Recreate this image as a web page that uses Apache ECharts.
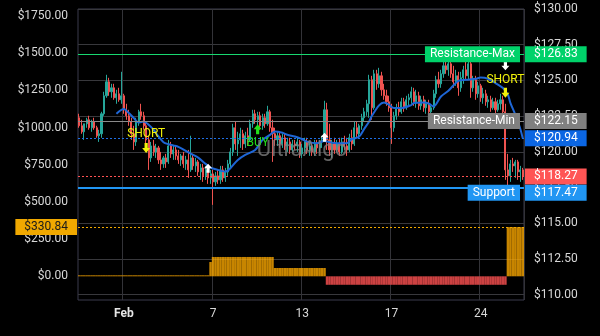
<!DOCTYPE html>
<html><head><meta charset="utf-8">
<script src="https://cdn.jsdelivr.net/npm/echarts@6/dist/echarts.min.js"></script>
<style>html,body{margin:0;background:#000}#c{width:600px;height:336px}</style>
</head><body><div id="c"></div>
<script>
// ---- data ----
const tradingDays = ['Jan 30','Jan 31','Feb 1','Feb 2','Feb 3','Feb 6','Feb 7','Feb 8','Feb 9','Feb 10','Feb 13','Feb 14','Feb 15','Feb 16','Feb 17','Feb 21','Feb 22','Feb 23','Feb 24','Feb 27'];
const barsPerDay = 9;
const tickIndex = [18, 54, 90, 126, 162];
const tickText = ['Feb', '7', '13', '17', '24'];
const rightTicks = [110, 112.5, 115, 117.5, 120, 122.5, 125, 127.5, 130];
const leftTicks = [0, 250, 500, 750, 1000, 1250, 1500, 1750];

const opens = [
122.38,121.82,121.40,121.96,122.24,121.68,122.10,121.68,121.12,121.26,
122.66,123.92,124.90,124.20,124.48,123.78,124.06,123.64,123.92,122.94,
122.52,122.10,121.26,120.69,122.10,122.80,122.52,121.82,120.83,119.57,
120.41,119.99,120.27,119.43,119.15,119.57,119.29,120.41,119.85,120.13,
119.71,119.43,119.71,119.15,119.43,118.73,119.57,119.01,119.29,118.59,
118.87,118.31,118.73,118.17,118.45,117.89,118.31,118.03,118.73,118.17,
118.59,119.15,119.99,121.68,120.55,120.83,121.26,120.55,121.12,120.83,
121.96,122.66,122.24,122.52,121.82,122.38,121.96,122.80,121.68,121.26,
120.83,121.12,120.55,120.98,120.41,120.69,120.13,120.55,120.41,120.69,
119.85,120.27,120.69,120.13,120.41,119.99,120.55,120.27,120.69,120.83,
122.94,120.83,120.13,120.55,120.13,120.55,119.99,120.69,120.41,120.13,
120.98,120.55,121.68,121.26,121.82,122.38,122.80,123.36,125.04,123.08,
125.46,124.76,125.32,124.34,123.92,123.50,123.08,121.68,122.52,123.08,
122.80,123.50,123.08,123.64,123.78,124.20,123.50,123.92,123.22,123.64,
123.08,123.36,122.80,123.08,124.06,125.04,124.76,125.46,126.02,125.74,
126.16,125.46,124.90,125.32,124.48,125.18,125.74,125.32,126.16,124.48,
125.04,124.06,124.62,123.78,124.06,123.50,123.64,123.08,123.50,122.94,
123.36,123.64,122.80,118.73,118.31,119.15,119.01,119.29,118.59,118.73];
const highs = [
122.66,122.24,121.96,122.38,122.52,122.24,122.38,121.82,121.54,122.80,
124.20,125.39,125.18,124.76,124.76,124.34,124.48,125.60,124.06,123.36,
122.94,122.38,121.82,122.38,122.94,123.36,122.80,122.10,121.12,120.69,
120.83,120.55,120.41,119.99,119.71,119.85,120.83,120.69,120.41,120.41,
120.13,119.85,119.99,119.71,120.13,121.12,119.85,119.57,119.43,119.15,
119.15,119.01,118.87,118.73,118.73,118.59,118.73,119.01,119.01,118.87,
119.43,120.27,121.96,122.10,121.40,121.68,121.54,121.40,121.68,122.24,
122.94,122.94,122.80,122.80,122.66,122.66,123.22,122.94,122.24,121.68,
121.40,121.40,121.26,121.26,120.98,120.98,120.83,120.83,120.98,120.83,
120.55,120.98,120.98,120.69,120.69,120.83,120.83,120.83,121.12,123.57,
123.43,121.96,120.83,120.98,120.83,120.98,120.98,121.12,120.98,121.26,
121.54,122.10,122.10,121.96,122.66,123.08,123.64,125.39,125.32,125.74,
125.74,125.88,125.60,124.76,124.34,123.92,123.36,122.80,123.36,123.50,
123.78,123.78,123.92,124.06,124.55,124.48,124.34,124.20,123.92,123.92,
123.64,123.64,123.22,124.34,125.32,125.60,125.74,126.30,126.44,126.44,
126.58,126.02,125.74,125.60,125.60,126.02,126.30,126.58,126.44,125.32,
125.32,124.90,124.76,124.48,124.34,123.92,123.92,123.78,123.78,123.64,
124.06,123.92,123.36,119.85,119.43,119.57,119.43,119.43,119.01,118.87];
const lows = [
121.68,121.26,120.83,121.68,121.54,121.40,121.54,120.98,120.69,120.98,
122.52,123.78,123.92,123.78,123.64,123.36,123.50,123.36,122.66,122.24,
121.82,120.83,120.13,120.41,121.82,122.24,121.54,120.55,118.73,119.29,
119.71,119.57,119.15,118.73,118.87,118.87,119.15,119.57,119.43,119.43,
119.15,119.01,118.87,118.73,118.17,118.59,118.73,118.59,118.31,118.03,
117.89,118.03,117.75,117.75,116.28,117.61,117.75,117.75,117.89,117.89,
118.31,118.87,119.71,120.13,119.71,120.27,120.13,120.27,120.41,120.69,
121.68,121.96,121.68,121.54,121.54,121.68,121.82,121.40,119.29,120.41,
120.41,120.27,120.27,120.13,119.99,119.85,119.99,120.13,119.99,119.57,
119.57,119.99,119.85,119.71,119.71,119.71,119.85,119.99,120.27,120.69,
120.13,119.71,119.57,119.85,119.99,119.71,119.85,120.13,119.71,119.99,
120.13,120.41,120.98,120.98,121.54,122.10,122.52,122.38,122.24,122.94,
124.34,124.48,123.92,123.64,123.22,122.80,120.55,121.40,122.24,122.52,
122.66,122.80,122.94,123.22,123.36,123.22,123.08,122.94,122.94,122.80,
122.66,122.52,122.45,122.94,123.78,124.48,124.48,125.18,125.46,125.32,
125.18,124.48,124.62,123.92,124.20,124.76,125.04,125.04,123.78,124.20,
123.64,123.78,123.50,123.36,123.22,123.08,122.80,122.94,122.66,122.80,
122.94,122.38,118.03,117.61,117.89,118.59,118.17,118.03,117.89,118.03];
const closes = [
121.82,121.40,121.96,122.24,121.68,122.10,121.68,121.12,121.26,122.66,
123.92,124.90,124.20,124.48,123.78,124.06,123.64,123.92,122.94,122.52,
122.10,121.26,120.69,122.10,122.80,122.52,121.82,120.83,119.57,120.41,
119.99,120.27,119.43,119.15,119.57,119.29,120.41,119.85,120.13,119.71,
119.43,119.71,119.15,119.43,118.73,119.57,119.01,119.29,118.59,118.87,
118.31,118.73,118.17,118.45,117.89,118.31,118.03,118.73,118.17,118.59,
119.15,119.99,121.68,120.55,120.83,121.26,120.55,121.12,120.83,121.96,
122.66,122.24,122.52,121.82,122.38,121.96,122.80,121.68,121.26,120.83,
121.12,120.55,120.98,120.41,120.69,120.13,120.55,120.41,120.69,119.85,
120.27,120.69,120.13,120.41,119.99,120.55,120.27,120.69,120.83,122.94,
120.83,120.13,120.55,120.13,120.55,119.99,120.69,120.41,120.13,120.98,
120.55,121.68,121.26,121.82,122.38,122.80,123.36,125.04,123.08,125.46,
124.76,125.32,124.34,123.92,123.50,123.08,121.68,122.52,123.08,122.80,
123.50,123.08,123.64,123.78,124.20,123.50,123.92,123.22,123.64,123.08,
123.36,122.80,123.08,124.06,125.04,124.76,125.46,126.02,125.74,126.16,
125.46,124.90,125.32,124.48,125.18,125.74,125.32,126.16,124.48,125.04,
124.06,124.62,123.78,124.06,123.50,123.64,123.08,123.50,122.94,123.36,
123.64,122.80,118.73,118.31,119.15,119.01,119.29,118.59,118.73,118.27];

const maIndex = [15,18,20,22,24,26,28,30,32,34,36,38,40,43,45,48,51,53,56,59,61,64,67,71,74,77,79,82,84,87,89,92,96,99,101,104,108,110,113,115,117,118,121,123,125,127,130,134,135,139,141,143,146,149,153,156,160,162,165,168,171,173,174,176,177,178,179];
const maValue = [122.66,122.99,122.71,122.36,122.05,122.12,121.89,121.54,121.07,120.67,120.53,120.44,120.34,120.06,119.87,119.59,119.15,118.89,118.73,118.61,118.85,119.43,119.78,120.13,120.83,121.18,121.42,121.33,121.19,121.07,120.95,120.71,120.60,120.76,120.67,120.60,120.60,120.87,121.07,121.60,122.12,122.48,123.25,123.45,123.29,123.06,123.06,123.27,123.41,123.45,123.38,123.17,123.87,124.27,124.97,125.04,125.11,125.20,125.11,124.81,124.46,123.99,123.43,122.59,122.10,121.61,120.94];

const histValues = [
0,0,0,0,0,0,0,0,0,0,
0,0,0,0,0,0,0,0,0,0,
0,0,0,0,0,0,0,0,0,0,
0,0,0,0,0,0,0,0,0,0,
0,0,0,0,0,0,0,0,0,0,
0,0,0,96,130,130,130,130,130,130,
130,130,130,130,130,130,130,130,130,130,
130,130,130,130,130,130,130,130,130,56,
56,56,56,56,56,56,56,56,56,56,
56,56,56,56,56,56,56,56,56,56,
-57,-57,-57,-57,-57,-57,-57,-57,-57,-57,
-57,-57,-57,-57,-57,-57,-57,-57,-57,-57,
-57,-57,-57,-57,-57,-57,-57,-57,-57,-57,
-57,-57,-57,-57,-57,-57,-57,-57,-57,-57,
-57,-57,-57,-57,-57,-57,-57,-57,-57,-57,
-57,-57,-57,-57,-57,-57,-57,-57,-57,-57,
-57,-57,-57,-57,-57,-57,-57,-57,-57,-57,
-57,-57,-57,330.84,330.84,330.84,330.84,330.84,330.84,330.84];

const resistanceMax = 126.83, resistanceMin = 122.15, maLast = 120.94, lastPrice = 118.27, support = 117.47;
const histLast = 330.84;
// signals: [barIndex, price]
const shortSignals = [[27, 121.26], [172, 125.00]];
const shortArrows = [[27, 120.27], [172, 124.13]];
const buySignals = [[72, 120.59]];
const buyArrows = [[72, 121.58]];
const whiteArrowsUp = [[52, 118.85], [99, 121.01]];
const whiteArrowsDown = [[172, 126.02]];

// ---- chart ----
const FONT = 'Roboto, "Liberation Sans", sans-serif';
const categories = [];
tradingDays.forEach(d => { for (let k = 0; k < barsPerDay; k++) categories.push(d + ' #' + (k + 1)); });
const candleData = opens.map((o, i) => [o, closes[i], lows[i], highs[i]]);
const maData = maIndex.map((x, i) => [x, maValue[i]]);
const fmt = v => '$' + v.toFixed(2);
const isTick = i => tickIndex.indexOf(i) >= 0;

const GREEN = '#00d26a', GRAY = '#808080', BLUE_MA = '#0b66e3', RED = '#ff5252', BLUE = '#2196f3', ORANGE = '#f0a800';
const nudge = 0.35;
const UP = 'path://M5,0 L10,5 L7,5 L7,10 L3,10 L3,5 L0,5 Z';
const DOWN = 'path://M3,0 L7,0 L7,5 L10,5 L5,10 L0,5 L3,5 Z';
const HIDDEN = { color: 'rgba(0,0,0,0)', width: 1, opacity: 1, type: 'solid' };

function axisTag(value, text, bg, fg) {
  return { yAxis: value, lineStyle: HIDDEN,
    label: { show: true, position: 'end', distance: 1, formatter: text, backgroundColor: bg, color: fg || '#fff',
      padding: [2, 9, 2, 9], fontSize: 12, lineHeight: 12, fontFamily: FONT, opacity: 1 } };
}
function titleTag(value, text, bg) {
  return { yAxis: value, lineStyle: HIDDEN,
    label: { show: true, position: 'insideEnd', distance: 4, formatter: text, backgroundColor: bg, color: '#fff',
      padding: [2, 5, 2, 5], fontSize: 12, lineHeight: 12, fontFamily: FONT, opacity: 1 } };
}
function line(value, color, type, width) {
  return { yAxis: value, lineStyle: { color, type, width: width || 1 }, label: { show: false } };
}
function txt(c, t, color) {
  return { coord: c, symbol: 'rect', symbolSize: 0,
    label: { show: true, position: 'inside', formatter: t, color, fontSize: 12, fontFamily: FONT } };
}
function arrow(c, path, color, size) {
  return { coord: c, symbol: path, symbolSize: size || [8, 10], itemStyle: { color }, label: { show: false } };
}

const chart = echarts.init(document.getElementById('c'), null, { renderer: 'canvas' });
chart.setOption({
  backgroundColor: '#000',
  animation: false,
  grid: { left: 78, right: 76, top: 9, bottom: 36, show: true, borderColor: '#3a3a4c', borderWidth: 1 },
  graphic: [{ type: 'text', x: 302, y: 150, z: 10, silent: true,
    style: { text: 'UltraAlgo', fill: 'rgba(125,125,125,0.78)', font: '22px ' + FONT, textAlign: 'center', textVerticalAlign: 'middle' } }],
  xAxis: {
    type: 'category', data: categories, boundaryGap: true,
    axisLine: { show: false }, axisTick: { show: false },
    axisLabel: { interval: (i) => isTick(i), margin: 8, color: '#d8d8d8', fontSize: 12, fontFamily: FONT,
      formatter: (v, i) => { const k = tickIndex.indexOf(i); return k === 0 ? '{b|' + tickText[k] + '}' : tickText[k]; },
      rich: { b: { fontWeight: 'bold', color: '#e6e6e6', fontSize: 12, fontFamily: FONT } } },
    splitLine: { show: true, interval: (i) => isTick(i), lineStyle: { color: '#333338', width: 1 } }
  },
  yAxis: [
    { type: 'value', position: 'left', min: -159.3, max: 1797,
      axisLine: { show: false }, axisTick: { show: false, customValues: leftTicks },
      axisLabel: { customValues: leftTicks, formatter: fmt, color: '#d8d8d8', fontSize: 12, margin: 10, fontFamily: FONT },
      splitLine: { show: false } },
    { type: 'value', position: 'right', min: 109.615, max: 130,
      axisLine: { show: false }, axisTick: { show: false, customValues: rightTicks },
      axisLabel: { customValues: rightTicks, formatter: fmt, color: '#d8d8d8', fontSize: 12, margin: 10, fontFamily: FONT },
      splitLine: { show: true, lineStyle: { color: '#38383c', width: 1 } } }
  ],
  series: [
    { type: 'bar', yAxisIndex: 0, data: histValues, barCategoryGap: '0%', barMinHeight: 1, z: 1,
      itemStyle: { color: p => p.value < 0 ? 'rgba(255,82,82,0.8)' : 'rgba(255,170,0,0.78)' },
      markLine: { symbol: ['none', 'none'], silent: true,
        data: [
          { yAxis: histLast, lineStyle: { color: ORANGE, type: [2, 2], width: 1 },
            label: { show: true, position: 'start', distance: 1, formatter: fmt(histLast), backgroundColor: ORANGE, color: '#1a1a1a',
              padding: [2, 9, 2, 9], fontSize: 12, lineHeight: 12, fontFamily: FONT } }
        ] } },
    { type: 'candlestick', yAxisIndex: 1, data: candleData, barWidth: 1.6, z: 2,
      itemStyle: { color: '#26a69a', color0: '#ef5350', borderColor: '#26a69a', borderColor0: '#ef5350', borderWidth: 1 },
      markLine: { symbol: ['none', 'none'], silent: true,
        data: [
          line(resistanceMax, '#18d870', 'solid', 1),
          line(resistanceMin, '#8a8a8a', 'solid', 1),
          line(maLast, '#1f6fe5', [2, 2], 1),
          line(lastPrice, RED, [2, 2], 1),
          line(support, BLUE, 'solid', 2),
          axisTag(resistanceMax, fmt(resistanceMax), GREEN), titleTag(resistanceMax, 'Resistance-Max', GREEN),
          axisTag(resistanceMin, fmt(resistanceMin), GRAY), titleTag(resistanceMin, 'Resistance-Min', GRAY),
          axisTag(maLast, fmt(maLast), BLUE_MA),
          axisTag(lastPrice, fmt(lastPrice), '#ff5555'),
          axisTag(support - nudge, fmt(support), BLUE), titleTag(support - nudge, 'Support', BLUE)
        ] },
      markPoint: { silent: true,
        data: [].concat(
          shortSignals.map(c => txt(c, 'SHORT', '#f2f20a')),
          shortArrows.map(c => arrow(c, DOWN, '#f2f20a')),
          buySignals.map(c => txt(c, 'BUY', '#22e01a')),
          buyArrows.map(c => arrow(c, UP, '#22e01a')),
          whiteArrowsUp.map(c => arrow(c, UP, '#ffffff', [8, 9])),
          whiteArrowsDown.map(c => arrow(c, DOWN, '#ffffff', [8, 9]))
        ) } },
    { type: 'line', yAxisIndex: 1, data: maData, showSymbol: false, smooth: 0.3, z: 3,
      lineStyle: { color: '#1e66d6', width: 2 } }
  ]
});
</script></body></html>
